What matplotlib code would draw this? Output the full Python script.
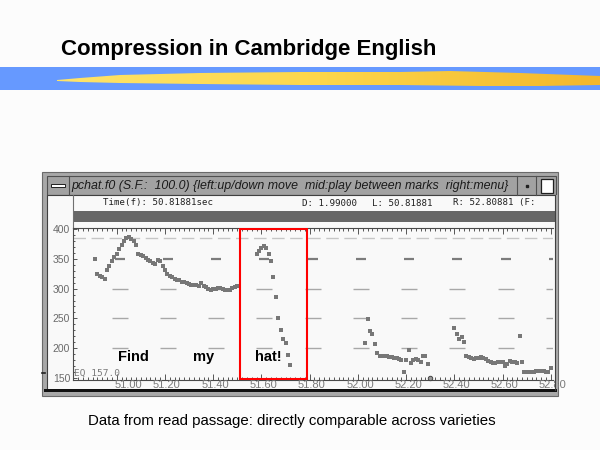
import matplotlib
matplotlib.use("Agg")
import matplotlib.pyplot as plt
from matplotlib.patches import Rectangle, Polygon
from matplotlib.colors import LinearSegmentedColormap
from matplotlib.ticker import MultipleLocator
import numpy as np

# ---------------- data ----------------
title_text = "Compression in Cambridge English"
caption_text = "Data from read passage: directly comparable across varieties"
window_title = "pchat.f0 (S.F.:  100.0) {left:up/down move  mid:play between marks  right:menu}"
header_time = "Time(f): 50.81881sec"
header_d = "D: 1.99000"
header_l = "L: 50.81881"
header_r = "R: 52.80881 (F:"
eq_text = "EQ 157.0"

view_start = 50.81881
view_end = 52.80881

find_my_t = [50.91, 50.92, 50.93, 50.94, 50.95, 50.96, 50.97, 50.98, 50.99,
             51.00, 51.01, 51.02, 51.03, 51.04, 51.05, 51.06, 51.07, 51.08, 51.09,
             51.10, 51.11, 51.12, 51.13, 51.14, 51.15, 51.16, 51.17, 51.18, 51.19,
             51.20, 51.21, 51.22, 51.23, 51.24, 51.25, 51.26, 51.27, 51.28, 51.29,
             51.30, 51.31, 51.32, 51.33, 51.34, 51.35, 51.36, 51.37, 51.38, 51.39,
             51.40, 51.41, 51.42, 51.43, 51.44, 51.45, 51.46, 51.47, 51.48, 51.49, 51.50]
find_my_f0 = [350, 325, 322, 319, 317, 332, 339, 346, 353,
              359, 366, 373, 380, 385, 387, 384, 380, 373, 358,
              357, 355, 352, 349, 346, 344, 341, 349, 347, 338,
              332, 324, 321, 319, 317, 315, 314, 312, 311, 310,
              308, 307, 306, 306, 305, 310, 304, 302, 299, 298,
              299, 300, 301, 301, 300, 298, 297, 298, 301, 303, 304]

hat_t = [51.58, 51.59, 51.60, 51.61, 51.62, 51.63, 51.64, 51.65,
         51.66, 51.67, 51.68, 51.69, 51.70, 51.71, 51.72]
hat_f0 = [358, 364, 369, 372, 369, 359, 346, 320,
          286, 251, 230, 216, 209, 189, 172]

tail1_t = [52.03, 52.04, 52.05, 52.06, 52.07, 52.08, 52.09, 52.10, 52.11,
           52.12, 52.13, 52.14, 52.15, 52.16, 52.17, 52.18, 52.19, 52.20,
           52.21, 52.22, 52.23, 52.24, 52.25, 52.26, 52.27, 52.28, 52.29]
tail1_f0 = [209, 249, 228, 224, 206, 192, 187, 187, 186,
            186, 185, 185, 184, 183, 181, 180, 159, 180,
            196, 174, 180, 181, 180, 177, 187, 186, 173]

tail2_t = [52.40, 52.41, 52.42, 52.43, 52.44, 52.45, 52.46, 52.47, 52.48,
           52.49, 52.50, 52.51, 52.52, 52.53, 52.54, 52.55, 52.56, 52.57,
           52.58, 52.59, 52.60, 52.61, 52.62, 52.63, 52.64, 52.65, 52.66,
           52.67, 52.68, 52.69, 52.70, 52.71, 52.72, 52.73, 52.74, 52.75,
           52.76, 52.77, 52.78, 52.79, 52.80]
tail2_f0 = [234, 224, 215, 219, 211, 186, 185, 183, 181,
            183, 184, 185, 183, 181, 178, 176, 174, 175,
            176, 176, 176, 169, 173, 179, 177, 176, 174,
            220, 176, 160, 160, 159, 160, 160, 162, 162,
            162, 162, 160, 160, 166]

edge_point_t = [52.30]
edge_point_f0 = [149]

y_ticks = [150, 200, 250, 300, 350, 400]
x_ticks = [51.00, 51.20, 51.40, 51.60, 51.80, 52.00, 52.20, 52.40, 52.60, 52.80]
x_tick_labels = ["51.00", "51.20", "51.40", "51.60", "51.80",
                 "52.00", "52.20", "52.40", "52.60", "52.80"]
grid_levels = [350, 300, 250, 200]
ceiling_level = 385

words = ["Find", "my", "hat!"]
word_t = [51.07, 51.36, 51.63]
word_f0 = 185

box_t = [51.51, 51.79]
box_f0 = [148, 400]

# ---------------- figure ----------------
W, H = 600, 450
fig = plt.figure(figsize=(6, 4.5), dpi=100)
fig.patch.set_facecolor("#fcfcfc")

bg = fig.add_axes([0, 0, 1, 1], zorder=0)
bg.axis("off")

# blue band and yellow brush
bg.add_patch(Rectangle((0, 67), 600, 23, facecolor="#6699ff", edgecolor="none"))
brush_pts = [(57, 80), (80, 78), (120, 75), (200, 73), (300, 72), (400, 72),
             (450, 71), (520, 73), (600, 76), (600, 85), (540, 86), (480, 86),
             (400, 85), (300, 85), (200, 84), (120, 83), (80, 82), (57, 81)]
brush = Polygon(brush_pts, closed=True, facecolor="none", edgecolor="none")
bg.add_patch(brush)
cmap = LinearSegmentedColormap.from_list("brush", ["#ffe46a", "#fcd64a", "#f3b72c"])
im = bg.imshow(np.linspace(0, 1, 256).reshape(1, -1), extent=[55, 600, 89, 69],
               cmap=cmap, aspect="auto", zorder=2, interpolation="bilinear")
im.set_clip_path(brush)

bg.text(61, 50, title_text, fontsize=16, fontweight="bold",
        family="Liberation Sans", ha="left", va="center", color="black")
bg.text(88, 421, caption_text, fontsize=10.8, family="Liberation Sans",
        ha="left", va="center", color="black")

# window frame
bg.add_patch(Rectangle((42, 172), 516, 224, facecolor="#a8a8a8", edgecolor="#6a6a6a", lw=0.8))
bg.add_patch(Rectangle((47, 176), 509, 19, facecolor="#a2a2a2", edgecolor="#505050", lw=0.8))
for xv in [69, 517, 536]:
    bg.plot([xv, xv], [176, 195], color="#505050", lw=0.8)
bg.add_patch(Rectangle((51, 183.5), 14, 3.5, facecolor="white", edgecolor="#202020", lw=0.7))
bg.plot([527], [185.5], marker="s", ms=2, color="#202020")
bg.add_patch(Rectangle((541, 178.5), 12, 14, facecolor="white", edgecolor="#202020", lw=0.9))
bg.text(71, 185.5, window_title, fontsize=8.9, style="italic", family="Liberation Sans",
        ha="left", va="center", color="#1a1a1a")
bg.add_patch(Rectangle((47, 195), 509, 195, facecolor="#f9f9f9", edgecolor="#404040", lw=0.8))
bg.plot([73, 73], [195, 228], color="#707070", lw=0.8)
bg.add_patch(Rectangle((73, 211), 483, 11, facecolor="#676767", edgecolor="none"))
mono = "DejaVu Sans Mono"
bg.text(103, 203, header_time, fontsize=6.6, family=mono, ha="left", va="center", color="#202020")
bg.text(302, 203, header_d, fontsize=6.6, family=mono, ha="left", va="center", color="#202020")
bg.text(372, 203, header_l, fontsize=6.6, family=mono, ha="left", va="center", color="#202020")
bg.text(453, 203, header_r, fontsize=6.6, family=mono, ha="left", va="center", color="#202020")
bg.set_xlim(0, W)
bg.set_ylim(H, 0)

# plot area
L, R, T, B = 73, 553, 228, 380
ax = fig.add_axes([L / W, 1 - B / H, (R - L) / W, (B - T) / H], zorder=2)
ax.set_facecolor("#f9f9f9")
ax.set_xlim(view_start, view_end)
ax.set_ylim(146.2, 402.2)
px_per_s = (R - L) / (view_end - view_start)

for s in ["top", "bottom", "left"]:
    ax.spines[s].set_color("#4a4a4a")
    ax.spines[s].set_linewidth(0.8)
ax.spines["right"].set_visible(False)

ax.xaxis.set_major_locator(MultipleLocator(0.2))
ax.xaxis.set_minor_locator(MultipleLocator(0.02))
ax.tick_params(axis="x", which="both", direction="in", top=True, bottom=True,
               labelbottom=False, color="#555555", width=0.7)
ax.tick_params(axis="x", which="major", length=4)
ax.tick_params(axis="x", which="minor", length=2)
ax.set_yticks(y_ticks)
ax.yaxis.set_minor_locator(MultipleLocator(10))
ax.tick_params(axis="y", which="both", direction="in", left=True, right=False,
               color="#555555", width=0.7, labelsize=7.5, labelcolor="#6a6a6a", pad=2)
ax.tick_params(axis="y", which="major", length=3)
ax.tick_params(axis="y", which="minor", length=1.5)
for lab in ax.get_yticklabels():
    lab.set_family("Liberation Sans")

# guide dashes
ax.axhline(ceiling_level, color="#c6c6c6", lw=1.0, dashes=(9, 4), zorder=1)
for lvl in grid_levels:
    if lvl == 350:
        hw, col, lw = 5, "#7c7c7c", 1.6
    else:
        hw, col, lw = 8, "#a8a8a8", 1.0
    for xt in x_ticks:
        c = xt + 3 / px_per_s
        ax.plot([c - hw / px_per_s, c + hw / px_per_s], [lvl, lvl], color=col, lw=lw,
                solid_capstyle="butt", zorder=1)

mk = dict(marker="s", ms=2.4, mew=0, color="#777777", linestyle="none", zorder=3)
ax.plot(find_my_t, find_my_f0, **mk)
ax.plot(hat_t, hat_f0, **mk)
ax.plot(tail1_t, tail1_f0, **mk)
ax.plot(tail2_t, tail2_f0, **mk)
ax.plot(edge_point_t, edge_point_f0, marker="o", ms=3.2, mfc="#999999", mec="#444444",
        mew=0.7, linestyle="none", zorder=4, clip_on=False)

ax.add_patch(Rectangle((box_t[0], box_f0[0]), box_t[1] - box_t[0], box_f0[1] - box_f0[0],
                       fill=False, edgecolor="#ff0000", lw=1.5, zorder=5))

for w, t in zip(words, word_t):
    ax.text(t, word_f0, w, fontsize=10.5, fontweight="bold", family="Liberation Sans",
            ha="center", va="center", color="black", zorder=6)

xtr = ax.get_xaxis_transform()
ylab = -5 / (B - T)
for i, (xt, lab) in enumerate(zip(x_ticks, x_tick_labels)):
    if i == 0:
        ax.text(xt - 2 / px_per_s, ylab, lab, transform=xtr, fontsize=8, family="Liberation Sans",
                ha="left", va="center", color="#7a7a7a", clip_on=False)
    else:
        ax.text(xt + 2 / px_per_s, ylab, lab, transform=xtr, fontsize=8, family="Liberation Sans",
                ha="center", va="center", color="#7a7a7a", clip_on=False)

# foreground frame pieces
fg = fig.add_axes([0, 0, 1, 1], zorder=5)
fg.patch.set_alpha(0)
fg.axis("off")
fg.text(74, 373, eq_text, fontsize=6.8, family=mono, ha="left", va="center", color="#7a7a7a")
fg.add_patch(Rectangle((555, 195), 3, 197, facecolor="#a8a8a8", edgecolor="none"))
fg.plot([555, 555], [195, 390], color="#404040", lw=0.8)
fg.add_patch(Rectangle((44, 389), 513, 3, facecolor="#111111", edgecolor="none"))
fg.plot([42, 45], [373, 373], color="#202020", lw=1.2)
fg.set_xlim(0, W)
fg.set_ylim(H, 0)

fig.savefig("out.png", dpi=100, facecolor=fig.get_facecolor())
